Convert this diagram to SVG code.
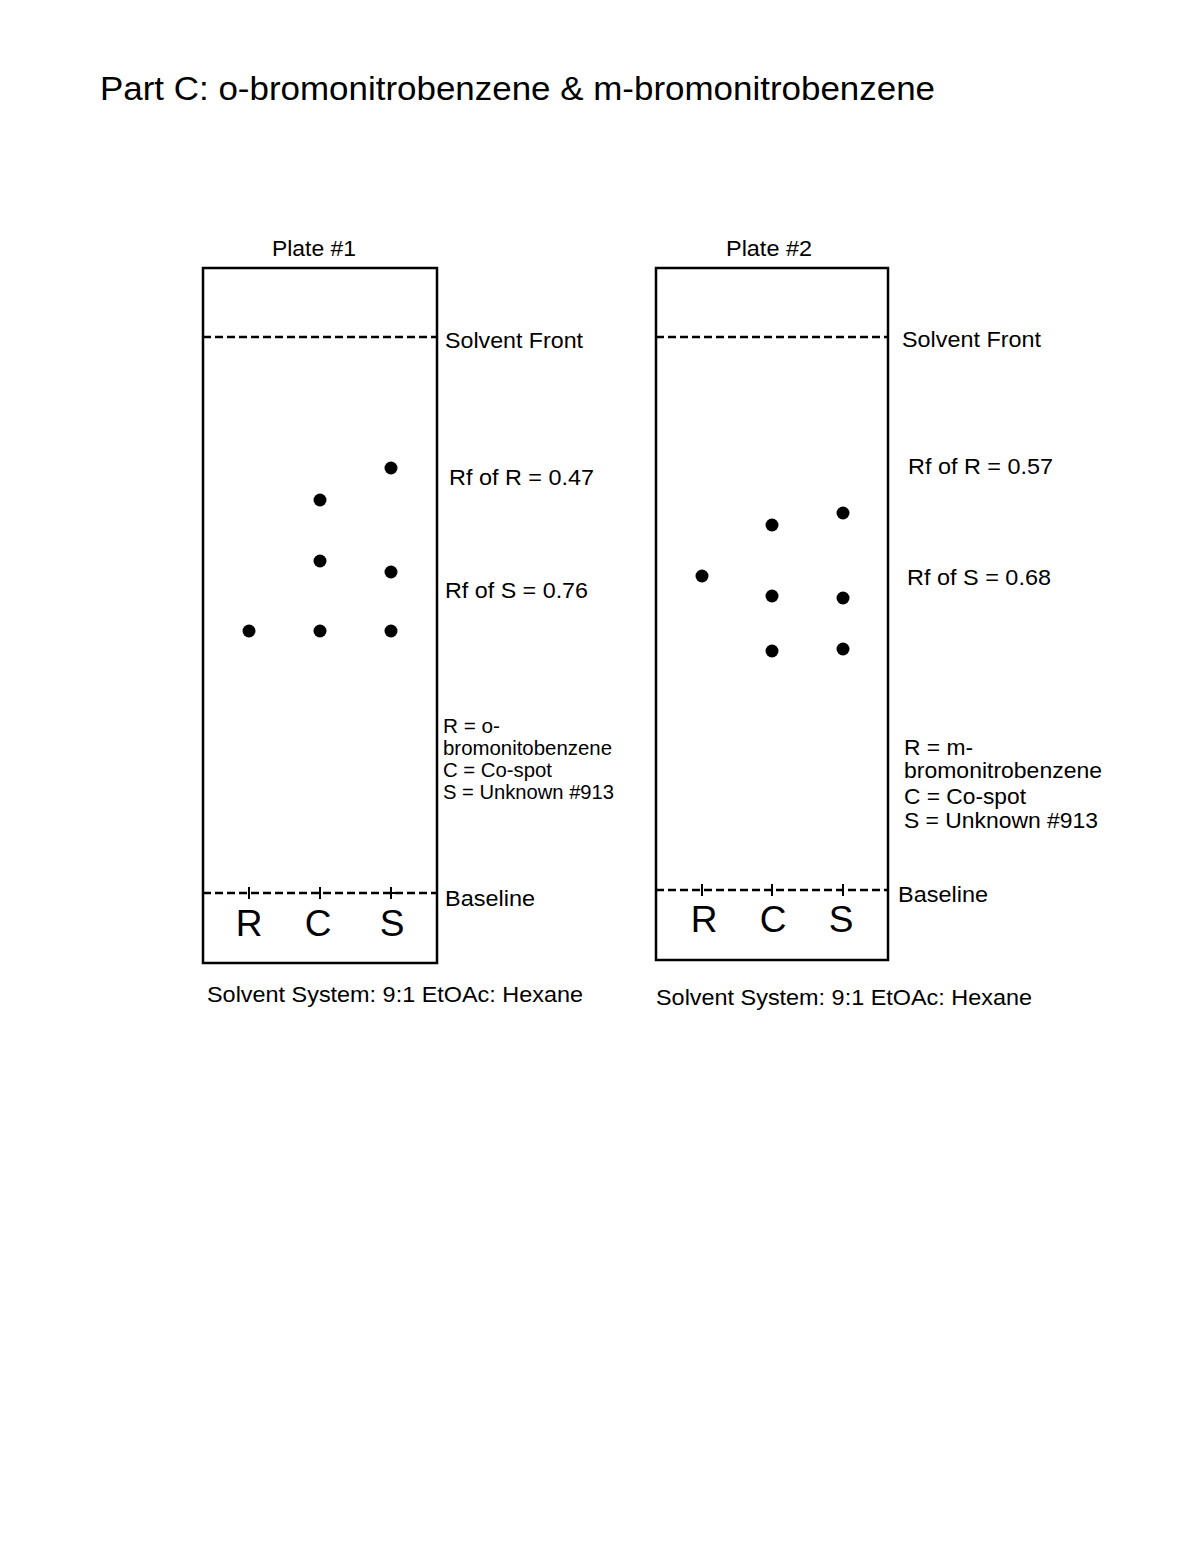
<svg xmlns="http://www.w3.org/2000/svg" width="1200" height="1553" viewBox="0 0 1200 1553">
<style>
text{font-family:"Liberation Sans",Arial,Helvetica,sans-serif;fill:#000}
.t{font-size:33px}
.l{font-size:21.5px}
.s{font-size:20px}
.s2{font-size:22px}
.big{font-size:37px;text-anchor:middle}
.plate{fill:none;stroke:#000;stroke-width:2.5}
.dash{stroke:#000;stroke-width:2.5;stroke-dasharray:8 4;fill:none}
.tick{stroke:#000;stroke-width:2}
.spot{fill:#000}
</style>
<rect width="1200" height="1553" fill="#fff"/>
<text class="t" x="100" y="100" textLength="835" lengthAdjust="spacingAndGlyphs">Part C: o-bromonitrobenzene &amp; m-bromonitrobenzene</text>

<g id="plate1">
<text class="l" x="272" y="256" textLength="84" lengthAdjust="spacingAndGlyphs">Plate #1</text>
<rect class="plate" x="203" y="268" width="234" height="695"/>
<line class="dash" x1="203" y1="337" x2="437" y2="337"/>
<line class="dash" x1="203" y1="893" x2="437" y2="893"/>
<line class="tick" x1="249" y1="887" x2="249" y2="899"/>
<line class="tick" x1="320" y1="887" x2="320" y2="899"/>
<line class="tick" x1="391" y1="887" x2="391" y2="899"/>
<line class="tick" x1="386" y1="893" x2="397" y2="893"/>
<circle class="spot" cx="391" cy="468" r="6.5"/>
<circle class="spot" cx="320" cy="500" r="6.5"/>
<circle class="spot" cx="320" cy="561" r="6.5"/>
<circle class="spot" cx="391" cy="572" r="6.5"/>
<circle class="spot" cx="249" cy="631" r="6.5"/>
<circle class="spot" cx="320" cy="631" r="6.5"/>
<circle class="spot" cx="391" cy="631" r="6.5"/>
<text class="big" x="249" y="936">R</text>
<text class="big" x="318" y="936">C</text>
<text class="big" x="392" y="936">S</text>
<text class="l" x="445" y="348" textLength="138" lengthAdjust="spacingAndGlyphs">Solvent Front</text>
<text class="l" x="449" y="485" textLength="145" lengthAdjust="spacingAndGlyphs">Rf of R = 0.47</text>
<text class="l" x="445" y="598" textLength="143" lengthAdjust="spacingAndGlyphs">Rf of S = 0.76</text>
<text class="s" x="443" y="733" textLength="57" lengthAdjust="spacingAndGlyphs">R = o-</text>
<text class="s" x="443" y="755" textLength="169" lengthAdjust="spacingAndGlyphs">bromonitobenzene</text>
<text class="s" x="443" y="777" textLength="109" lengthAdjust="spacingAndGlyphs">C = Co-spot</text>
<text class="s" x="443" y="799" textLength="171" lengthAdjust="spacingAndGlyphs">S = Unknown #913</text>
<text class="l" x="445" y="906" textLength="90" lengthAdjust="spacingAndGlyphs">Baseline</text>
<text class="l" x="207" y="1002" textLength="376" lengthAdjust="spacingAndGlyphs">Solvent System: 9:1 EtOAc: Hexane</text>
</g>

<g id="plate2">
<text class="l" x="726" y="256" textLength="86" lengthAdjust="spacingAndGlyphs">Plate #2</text>
<rect class="plate" x="656" y="268" width="232" height="692"/>
<line class="dash" x1="656" y1="337" x2="888" y2="337"/>
<line class="dash" x1="656" y1="890" x2="888" y2="890"/>
<line class="tick" x1="702" y1="884" x2="702" y2="896"/>
<line class="tick" x1="772" y1="884" x2="772" y2="896"/>
<line class="tick" x1="843" y1="884" x2="843" y2="896"/>
<circle class="spot" cx="843" cy="513" r="6.5"/>
<circle class="spot" cx="772" cy="525" r="6.5"/>
<circle class="spot" cx="702" cy="576" r="6.5"/>
<circle class="spot" cx="772" cy="596" r="6.5"/>
<circle class="spot" cx="843" cy="598" r="6.5"/>
<circle class="spot" cx="772" cy="651" r="6.5"/>
<circle class="spot" cx="843" cy="649" r="6.5"/>
<text class="big" x="704" y="932">R</text>
<text class="big" x="773" y="932">C</text>
<text class="big" x="841" y="932">S</text>
<text class="l" x="902" y="347" textLength="139" lengthAdjust="spacingAndGlyphs">Solvent Front</text>
<text class="l" x="908" y="474" textLength="145" lengthAdjust="spacingAndGlyphs">Rf of R = 0.57</text>
<text class="l" x="907" y="585" textLength="144" lengthAdjust="spacingAndGlyphs">Rf of S = 0.68</text>
<text class="s2" x="904" y="755" textLength="69" lengthAdjust="spacingAndGlyphs">R = m-</text>
<text class="s2" x="904" y="778" textLength="198" lengthAdjust="spacingAndGlyphs">bromonitrobenzene</text>
<text class="s2" x="904" y="804" textLength="122" lengthAdjust="spacingAndGlyphs">C = Co-spot</text>
<text class="s2" x="904" y="828" textLength="194" lengthAdjust="spacingAndGlyphs">S = Unknown #913</text>
<text class="l" x="898" y="902" textLength="90" lengthAdjust="spacingAndGlyphs">Baseline</text>
<text class="l" x="656" y="1005" textLength="376" lengthAdjust="spacingAndGlyphs">Solvent System: 9:1 EtOAc: Hexane</text>
</g>
<g id="connectors"></g>
</svg>
